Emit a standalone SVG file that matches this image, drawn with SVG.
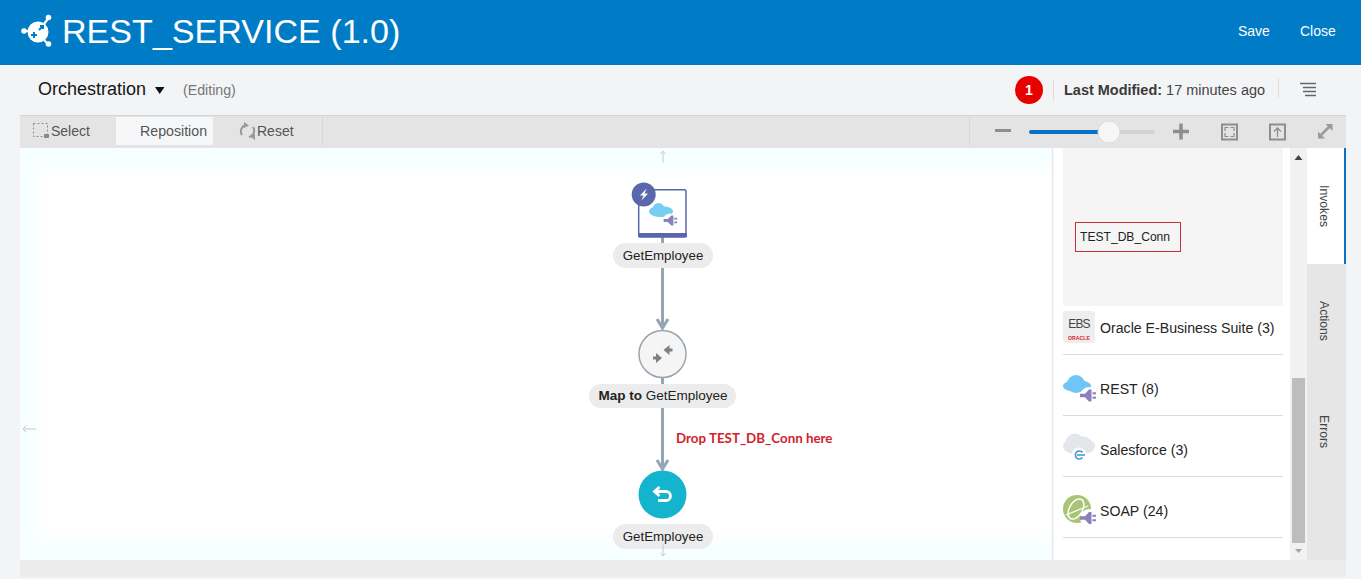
<svg xmlns="http://www.w3.org/2000/svg" width="1361" height="579" viewBox="0 0 1361 579">
<style>
text{font-family:"Liberation Sans",Arial,sans-serif;fill:#2f2f2f}
.pill{fill:#ececec}
.lbl{font-size:13.300px;text-anchor:middle;fill:#222}
.item{font-size:14.150px;fill:#252525}
.sep{stroke:#dcdcdc;stroke-width:1}
.tb{font-size:14px;fill:#555}
.plug{fill:#8b7fbd}
.conn{stroke:#96a5b3;stroke-width:3;fill:none}
.head{stroke:#96a5b3;stroke-width:3;fill:none}
.tab{font-size:12.200px;fill:#444}
.hair{stroke:#c9c9c9;stroke-width:1;fill:none}
</style>
<defs>
<g id="plug"><path class="plug" d="M-7.500 -1.800L-2.500 -1.800L1.500 -6H4V6H1.500L-2.500 1.800L-7.500 1.800Z"/><rect class="plug" x="5" y="-3.200" width="3.500" height="2"/><rect class="plug" x="5" y="1.200" width="3.500" height="2"/></g>
<filter id="soft" x="-5%" y="-10%" width="110%" height="120%"><feGaussianBlur stdDeviation="7"/></filter>
</defs>
<rect width="1361" height="579" fill="#f3f4f6"/>
<g id="header">
<rect width="1361" height="65" fill="#007cc7"/>
<g id="logo" fill="#fff" stroke="#fff">
<circle cx="38" cy="32" r="10.500" stroke="none"/>
<path d="M24 31H32M44 24L48.500 18M44 40L48.500 44.500" stroke-width="2.200" fill="none"/>
<circle cx="24" cy="31" r="2.800" stroke="none"/><circle cx="48.500" cy="17.500" r="2.800" stroke="none"/><circle cx="48.500" cy="44" r="2.800" stroke="none"/>
<path d="M31 35H37M34 32V38M39 30L43 26M40 26H43V29" stroke="#007cc7" stroke-width="2" fill="none"/>
</g>
<text x="62" y="43" font-size="34.100" style="fill:#fff">REST_SERVICE (1.0)</text>
<text x="1238" y="36" font-size="14" style="fill:#fff">Save</text>
<text x="1300" y="36" font-size="14" style="fill:#fff">Close</text>
</g>
<g id="subheader">
<text x="38" y="95" font-size="18" style="fill:#161616">Orchestration</text>
<path d="M155 87H164.500L159.700 94Z" fill="#111"/>
<text x="183" y="95" font-size="14.200" style="fill:#777">(Editing)</text>
<circle cx="1029" cy="90" r="14" fill="#e60000"/>
<text x="1029" y="95" font-size="14" font-weight="bold" text-anchor="middle" style="fill:#fff">1</text>
<path d="M1053.500 79V101M1278.500 78V98" stroke="#dedede"/>
<text x="1064" y="95" font-size="14.480" style="fill:#444"><tspan font-weight="bold" style="fill:#3a3a3a">Last Modified:</tspan> 17 minutes ago</text>
<path d="M1300 83.500H1316M1303 87.500H1316M1303 91.500H1316M1305 95.500H1316" stroke="#666" stroke-width="1.600"/>
</g>
<g id="toolbar">
<rect x="20" y="115" width="1326" height="33" fill="#e4e4e4"/>
<path d="M20 115.500H1346" stroke="#d4d4d4"/>
<rect x="116" y="117" width="97" height="28" fill="#f6f7f8"/>
<path d="M322.500 117V145M969.500 117V145" stroke="#d7d7d7"/>
<rect x="33.500" y="123.500" width="14" height="13" fill="none" stroke="#8c8c8c" stroke-dasharray="2 2"/>
<rect x="44" y="134" width="5" height="4" fill="#8a8a8a"/>
<text x="51" y="136" class="tb">Select</text>
<text x="140" y="136" class="tb" style="font-size:14.200px">Reposition</text>
<path d="M242 135A6.500 6.500 0 0 1 246 125M253 127A6.500 6.500 0 0 1 249 137" fill="none" stroke="#999" stroke-width="2"/>
<path d="M244 122L249 125.500L244 128ZM255 140L250 136.500L255 134Z" fill="#999"/>
<text x="257" y="136" class="tb">Reset</text>
<rect x="995" y="129" width="16" height="3" fill="#8e8e8e"/>
<rect x="1029" y="130" width="126" height="4" rx="2" fill="#d3d3d3"/>
<rect x="1029" y="130" width="72" height="4" rx="2" fill="#0a72c4"/>
<circle cx="1109" cy="132" r="11" fill="#f6f6f6" stroke="#dcdcdc"/>
<path d="M1173 131.500H1189M1181 123.500V139.500" stroke="#8e8e8e" stroke-width="3.500"/>
<rect x="1222" y="124.500" width="15" height="15" fill="none" stroke="#8e8e8e" stroke-width="2"/>
<path d="M1225 131V127.500H1228.500M1234 131V127.500H1230.500M1225 133V136.500H1228.500M1234 133V136.500H1230.500" fill="none" stroke="#8e8e8e" stroke-width="1.200"/>
<rect x="1270" y="124.500" width="15" height="15" fill="none" stroke="#8e8e8e" stroke-width="2"/>
<path d="M1277.500 137V128M1274 131.500L1277.500 128L1281 131.500" fill="none" stroke="#8e8e8e" stroke-width="1.300"/>
<path d="M1320 136L1330 126" stroke="#9a9a9a" stroke-width="2.500"/>
<path d="M1318 138.500V131.500L1325 138.500ZM1332.500 124V131L1325.500 124Z" fill="#9a9a9a"/>
</g>
<g id="canvas">
<rect x="20" y="148" width="1033" height="412" fill="#f6ffff"/>
<clipPath id="canvasclip"><rect x="20" y="148" width="1033" height="412"/></clipPath>
<g clip-path="url(#canvasclip)"><rect x="38" y="170" width="1100" height="370" fill="#fff" filter="url(#soft)"/></g>
<path d="M663 163V151M660.500 154L663 151L665.500 154" class="hair"/>
<path d="M36 429H23M26.500 425.500L23 429L26.500 432.500" class="hair"/>
</g>
<g id="connectors">
<path class="conn" d="M662.500 236V243M662.500 268V328M662.500 378V384M662.500 408V469"/>
<path class="head" d="M657 319L662.500 328L668 319M657 460L662.500 469L668 460"/>
</g>
<g id="node-getemployee-invoke">
<rect x="613" y="243" width="100" height="25" rx="12.500" class="pill"/>
<rect x="638.700" y="189.700" width="47.300" height="47" rx="1.500" fill="#fff" stroke="#5a67ad" stroke-width="1.500"/>
<rect x="638" y="233" width="49" height="4.500" rx="1" fill="#5a67ad"/>
<circle cx="643.700" cy="194.500" r="12" fill="#5a67ad"/>
<path d="M646.500 188.500L640 195.500H643.500L641.500 200.500L648 193.500H644.500Z" fill="#fff"/>
<ellipse cx="661" cy="211.500" rx="12" ry="5.500" fill="#75cdf2"/><circle cx="658.500" cy="209" r="6" fill="#75cdf2"/>
<circle cx="670" cy="220.500" r="7" fill="#fff"/>
<use href="#plug" transform="translate(670,220.500) scale(.85)"/>
<text x="663" y="260" class="lbl">GetEmployee</text>
</g>
<g id="node-map">
<circle cx="662.500" cy="354" r="23.500" fill="#f5f5f5" stroke="#97a4b0" stroke-width="1.500"/>
<path d="M662 358L656 353V356.500H653V359.500H656V363ZM663.500 350L669.500 345V348.500H672.500V351.500H669.500V355Z" fill="#808080"/>
<rect x="589" y="384" width="147" height="24" rx="12" class="pill"/>
<text x="663" y="400" class="lbl" style="font-size:13.500px"><tspan font-weight="bold">Map to</tspan> GetEmployee</text>
</g>
<text id="hint" x="676" y="443" font-size="13.350" font-weight="bold" style="font-family:Lato,'Open Sans',sans-serif;fill:#d2232a">Drop TEST_DB_Conn here</text>
<g id="node-return">
<circle cx="662.500" cy="494.500" r="24" fill="#14b4ce"/>
<path d="M655 491.500H666A4.500 4.500 0 0 1 666 500.500H658M659.500 487L654.500 491.500L659.500 496" fill="none" stroke="#fff" stroke-width="2.800"/>
<rect x="613" y="524" width="100" height="25" rx="12.500" class="pill"/>
<text x="663" y="541" class="lbl">GetEmployee</text>
<path d="M663 544V556M660.500 553L663 556L665.500 553" class="hair"/>
</g>
<g id="palette">
<rect x="1053" y="148" width="237" height="412" fill="#fff"/>
<path d="M1052.500 148V560" stroke="#e8e8e8" stroke-width="1.500"/>
<rect x="1063" y="148" width="220" height="158" fill="#f5f5f5"/>
<g id="test-db-conn">
<rect x="1075.500" y="222.500" width="105" height="29" fill="none" stroke="#c8303f"/>
<text x="1080" y="241" font-size="12.100" style="fill:#222">TEST_DB_Conn</text>
</g>
<g id="item-ebs">
<rect x="1063" y="311" width="32" height="32" rx="3" fill="#eeeeee"/>
<text x="1079" y="328" font-size="12" text-anchor="middle" style="fill:#444;letter-spacing:-.8px">EBS</text>
<text x="1079" y="339.500" font-size="5.200" font-weight="bold" text-anchor="middle" style="fill:#d9262c">ORACLE</text>
<text x="1100" y="333" class="item">Oracle E-Business Suite (3)</text>
</g>
<path class="sep" d="M1063 354.500H1283M1063 415.500H1283M1063 476.500H1283M1063 537.500H1283"/>
<g id="item-rest">
<ellipse cx="1077" cy="386" rx="14" ry="6" fill="#6fc6f6"/><circle cx="1076" cy="384" r="9" fill="#6fc6f6"/>
<circle cx="1089" cy="396" r="9" fill="#fff"/>
<use href="#plug" transform="translate(1087.500,395.500)"/>
<text x="1100" y="394" class="item">REST (8)</text>
</g>
<g id="item-salesforce">
<ellipse cx="1079" cy="446" rx="16" ry="9" fill="#e3e7ec"/><circle cx="1075" cy="443" r="9.500" fill="#e3e7ec"/><circle cx="1084" cy="444" r="7.500" fill="#e3e7ec"/>
<circle cx="1079" cy="455" r="7.500" fill="#fff"/>
<path d="M1082.500 452.500A4 4 0 1 0 1082.500 457.500" fill="none" stroke="#3b93d0" stroke-width="1.500"/>
<path d="M1077 455H1085" stroke="#3b93d0" stroke-width="1.500"/>
<text x="1100" y="455" class="item">Salesforce (3)</text>
</g>
<g id="item-soap">
<circle cx="1077" cy="509" r="14" fill="#a9c474"/>
<ellipse cx="1076" cy="509" rx="6.500" ry="11" transform="rotate(30 1076 509)" fill="none" stroke="#fff" stroke-width="1.500"/>
<path d="M1066 515L1088 506" stroke="#fff" stroke-width="1.200"/>
<circle cx="1089" cy="518" r="9" fill="#fff"/>
<use href="#plug" transform="translate(1087.500,518)"/>
<text x="1100" y="516" class="item">SOAP (24)</text>
</g>
</g>
<g id="scrollbar">
<rect x="1290" y="148" width="17" height="412" fill="#f1f1f1"/>
<path d="M1294.500 160L1298.500 155L1302.500 160Z" fill="#444"/>
<rect x="1292" y="378" width="13" height="165" fill="#bdbdbd"/>
<path d="M1295 549H1302L1298.500 553Z" fill="#a6a6a6"/>
</g>
<g id="tabs">
<rect x="1307" y="148" width="39" height="116" fill="#fff"/>
<rect x="1307" y="264" width="39" height="296" fill="#e6e6e6"/>
<rect x="1344" y="148" width="2" height="116" fill="#0a72c4"/>
<text class="tab" transform="translate(1320,185) rotate(90)">Invokes</text>
<text class="tab" transform="translate(1320,301) rotate(90)">Actions</text>
<text class="tab" transform="translate(1320,415) rotate(90)">Errors</text>
</g>
<rect x="20" y="560" width="1326" height="17" fill="#ececec"/>
</svg>
